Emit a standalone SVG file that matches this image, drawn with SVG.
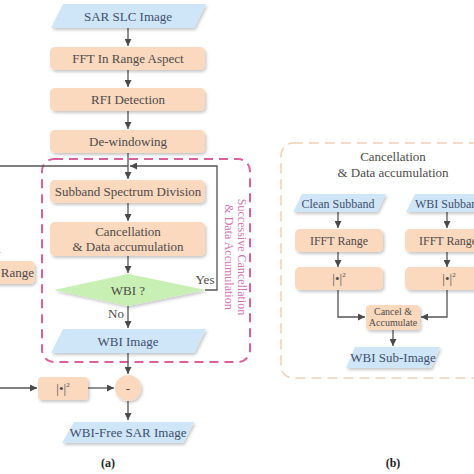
<svg xmlns="http://www.w3.org/2000/svg" width="474" height="474" viewBox="0 0 474 474">
<defs>
<filter id="sh" x="-10%" y="-20%" width="130%" height="160%">
<feDropShadow dx="1.5" dy="2" stdDeviation="1.5" flood-color="#000" flood-opacity="0.22"/>
</filter>
<marker id="ah" viewBox="0 0 10 10" refX="10" refY="5" markerWidth="7" markerHeight="7" orient="auto" markerUnits="userSpaceOnUse">
<path d="M0,0 L10,5 L0,10 z" fill="#4a4a4a"/>
</marker>
</defs>
<style>
.box{fill:#fad9bf;filter:url(#sh)}
.io{fill:#cfe6f8;filter:url(#sh)}
.dia{fill:#c8f0b4;filter:url(#sh)}
text{font-family:'Liberation Serif','DejaVu Serif',serif}
.t{font-size:13px;fill:#4e4a48;text-anchor:middle}
.tb{font-size:13px;fill:#3e4e6c;text-anchor:middle}
.ts{font-size:10px;fill:#4e4a48;text-anchor:middle}
.lab{font-size:12px;font-weight:bold;fill:#222;text-anchor:middle}
.vt{font-size:12px;fill:#d474b0;text-anchor:middle}
.ln{fill:none;stroke:#555;stroke-width:1.3}
.arr{fill:none;stroke:#555;stroke-width:1.3;marker-end:url(#ah)}
</style>
<rect width="474" height="474" fill="#fff"/>

<g id="frames">
<rect x="42" y="159" width="208" height="203" rx="12" fill="none" stroke="#d9609c" stroke-width="2" stroke-dasharray="9 6"/>
<rect x="281" y="143" width="210" height="235" rx="12" fill="none" stroke="#f0cfb2" stroke-width="1.5" stroke-dasharray="10 6"/>
<text class="vt" font-family="Liberation Serif, DejaVu Serif, serif" transform="translate(238,257) rotate(90)">Successive Cancellation</text>
<text class="vt" font-family="Liberation Serif, DejaVu Serif, serif" transform="translate(225,257) rotate(90)">&amp; Data Accumulation</text>
</g>

<g id="connectors">
<line class="arr" x1="128" y1="28" x2="128" y2="46"/>
<line class="arr" x1="128" y1="70" x2="128" y2="87"/>
<line class="arr" x1="128" y1="111" x2="128" y2="129"/>
<line class="arr" x1="128" y1="153" x2="128" y2="179"/>
<polyline class="ln" points="0,166 128,166"/>
<polyline class="arr" points="205,290 217,290 217,166 130,166"/>
<line class="arr" x1="-3" y1="166" x2="-3" y2="259"/>
<line class="arr" x1="128" y1="203" x2="128" y2="221"/>
<line class="arr" x1="128" y1="256" x2="128" y2="273"/>
<line class="arr" x1="128" y1="306" x2="128" y2="328"/>
<line class="arr" x1="128" y1="353" x2="128" y2="374"/>
<line class="arr" x1="0" y1="388" x2="37" y2="388"/>
<line class="arr" x1="88" y1="388" x2="114" y2="388"/>
<line class="arr" x1="128" y1="401" x2="128" y2="420"/>
<line class="arr" x1="338" y1="212" x2="338" y2="228"/>
<line class="arr" x1="447" y1="212" x2="447" y2="228"/>
<line class="arr" x1="338" y1="252" x2="338" y2="267"/>
<line class="arr" x1="447" y1="252" x2="447" y2="267"/>
<polyline class="arr" points="338,289 338,317 365,317"/>
<polyline class="arr" points="447,289 447,317 421,317"/>
<line class="arr" x1="393" y1="330" x2="393" y2="346"/>
</g>

<g id="sar-slc">
<polygon class="io" points="63,4 206,4 194,28 51,28"/>
<text class="tb" x="128" y="20.5">SAR SLC Image</text>
</g>
<g id="fft">
<rect class="box" x="50" y="47" width="155" height="23" rx="5"/>
<text class="t" x="128" y="62.5">FFT In Range Aspect</text>
</g>
<g id="rfi">
<rect class="box" x="50" y="88" width="155" height="23" rx="5"/>
<text class="t" x="128" y="103.5">RFI Detection</text>
</g>
<g id="dewin">
<rect class="box" x="50" y="130" width="155" height="23" rx="5"/>
<text class="t" x="128" y="145.5">De-windowing</text>
</g>
<g id="left-range">
<rect class="box" x="-60" y="261" width="95" height="23" rx="5"/>
<text class="t" x="34" y="276.5" style="text-anchor:end">Range</text>
</g>
<g id="subband">
<rect class="box" x="50" y="180" width="155" height="23" rx="5"/>
<text class="t" x="128" y="195.5">Subband Spectrum Division</text>
</g>
<g id="cancel">
<rect class="box" x="50" y="222" width="155" height="34" rx="5"/>
<text class="t" x="128" y="235.5">Cancellation</text>
<text class="t" x="128" y="250.5">&amp; Data accumulation</text>
</g>
<g id="wbi-dec">
<polygon class="dia" points="128,274 206,290 128,306 54,290"/>
<text class="t" x="128" y="294.5">WBI ?</text>
<text class="t" x="205" y="284">Yes</text>
<text class="t" x="116" y="318">No</text>
</g>
<g id="wbi-image">
<polygon class="io" points="63,329 206,329 194,353 51,353"/>
<text class="tb" x="128" y="346">WBI Image</text>
</g>
<g id="abs-a">
<rect class="box" x="38" y="377" width="50" height="23" rx="4"/>
<text class="t" x="63" y="393">|•|<tspan font-size="7" dy="-6">2</tspan></text>
</g>
<g id="minus">
<circle class="box" cx="128" cy="388" r="13"/>
<text class="t" x="128" y="392.5">-</text>
</g>
<g id="wbi-free">
<polygon class="io" points="74,422 194,422 183,443 62,443"/>
<text class="tb" x="128" y="437">WBI-Free SAR Image</text>
</g>

<g id="b-title">
<text class="t" x="393" y="161">Cancellation</text>
<text class="t" x="393" y="177">&amp; Data accumulation</text>
</g>
<g id="clean-sub">
<polygon class="io" points="302,194 386,194 377,212 293,212"/>
<text class="tb" x="338" y="207.5" style="font-size:12px">Clean Subband</text>
</g>
<g id="wbi-sub">
<polygon class="io" points="415,194 500,194 491,212 406,212"/>
<text class="tb" x="415" y="207.5" style="font-size:12px;text-anchor:start">WBI Subband</text>
</g>
<g id="ifft-l">
<rect class="box" x="295" y="229" width="88" height="23" rx="5"/>
<text class="t" x="339" y="245" style="font-size:12px">IFFT Range</text>
</g>
<g id="ifft-r">
<rect class="box" x="405" y="229" width="88" height="23" rx="5"/>
<text class="t" x="419" y="245" style="font-size:12px;text-anchor:start">IFFT Range</text>
</g>
<g id="abs-l">
<rect class="box" x="295" y="267" width="88" height="23" rx="5"/>
<text class="t" x="339" y="283">|•|<tspan font-size="7" dy="-6">2</tspan></text>
</g>
<g id="abs-r">
<rect class="box" x="405" y="267" width="88" height="23" rx="5"/>
<text class="t" x="449" y="283">|•|<tspan font-size="7" dy="-6">2</tspan></text>
</g>
<g id="cancel-acc">
<rect class="box" x="366" y="305" width="54" height="25" rx="4"/>
<text class="ts" x="393" y="315">Cancel &amp;</text>
<text class="ts" x="393" y="326">Accumulate</text>
</g>
<g id="wbi-subimg">
<polygon class="io" points="355,347 440,347 431,368 346,368"/>
<text class="tb" x="393" y="362">WBI Sub-Image</text>
</g>

<text class="lab" x="108" y="467">(a)</text>
<text class="lab" x="393" y="467">(b)</text>
</svg>
